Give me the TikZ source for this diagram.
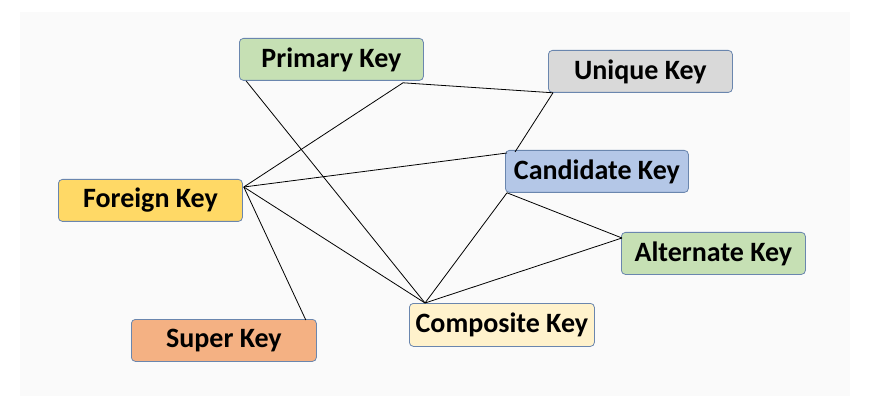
\documentclass[tikz,border=0pt]{standalone}
\usepackage{fontspec}
\setmainfont{Carlito}
\usetikzlibrary{calc}
\begin{document}
\begin{tikzpicture}[x=1pt,y=-1pt,
 key/.style={draw=bordc,line width=0.8pt,rounded corners=4pt,minimum width=184pt,minimum height=42pt,inner sep=0pt,font=\fontsize{28}{30}\selectfont\bfseries,anchor=north west},
 link/.style={line width=0.8pt,black}]
\definecolor{bordc}{HTML}{6A86AE}
\useasboundingbox (0,0) rectangle (870,414);
\fill[white] (0,0) rectangle (870,414);
\fill[black!2] (20,12) rectangle (850,396);
\node[key,fill={rgb,255:red,198;green,224;blue,180}] (pk) at (239,38) {Primary Key};
\node[key,fill={rgb,255:red,217;green,217;blue,217}] (uk) at (548,50) {Unique Key};
\node[key,fill={rgb,255:red,180;green,199;blue,231},minimum width=183pt] (ck) at (505,150) {Candidate Key};
\node[key,fill={rgb,255:red,255;green,217;blue,102}] (fk) at (58,179) {Foreign Key};
\node[key,fill={rgb,255:red,198;green,224;blue,180}] (ak) at (621,232) {Alternate Key};
\node[key,fill={rgb,255:red,244;green,177;blue,131},minimum width=185pt] (sk) at (131,319) {Super Key};
\node[key,fill={rgb,255:red,255;green,242;blue,204},minimum width=185pt,minimum height=43pt] (cmp) at (409,303) {Composite Key};
\coordinate (pa) at ($(pk.south west)+(7,0)$);
\coordinate (pb) at ($(pk.south west)+(164,2)$);
\coordinate (ua) at ($(uk.south west)+(5,0)$);
\coordinate (ca) at ($(ck.north west)+(10,2)$);
\coordinate (cb) at ($(ck.north west)+(2,3)$);
\coordinate (cc) at ($(ck.south west)+(2,0)$);
\coordinate (fa) at ($(fk.north east)+(1,8)$);
\coordinate (sa) at ($(sk.north east)+(-11,1)$);
\coordinate (ma) at ($(cmp.north west)+(16,0)$);
\coordinate (aa) at ($(ak.north west)+(1,6)$);
\draw[link] (pa) -- (ma);
\draw[link] (pb) -- (fa);
\draw[link] (pb) -- (ua);
\draw[link] (ua) -- (ca);
\draw[link] (fa) -- (cb);
\draw[link] (fa) -- (ma);
\draw[link] (fa) -- (sa);
\draw[link] (cc) -- (ma);
\draw[link] (cc) -- (aa);
\draw[link] (ma) -- (aa);
\end{tikzpicture}
\end{document}
